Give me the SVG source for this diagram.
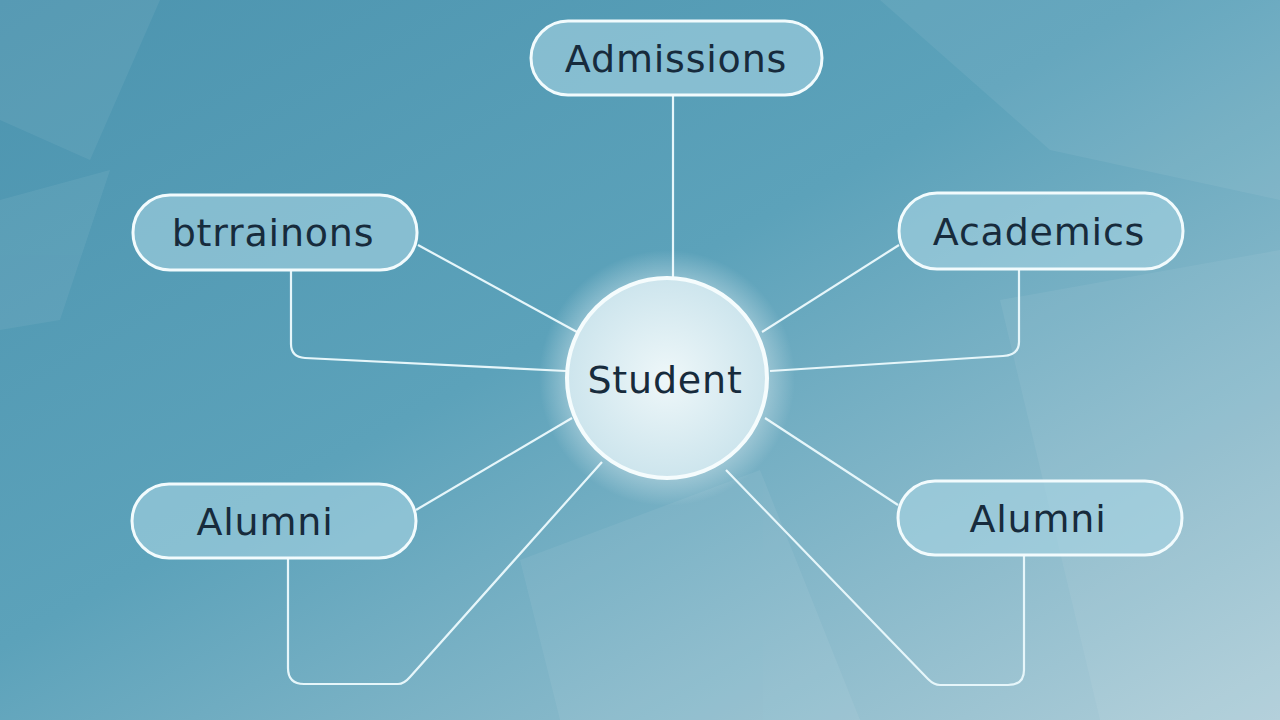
<svg xmlns="http://www.w3.org/2000/svg" width="1280" height="720" viewBox="0 0 1280 720">
<defs>
<linearGradient id="bg" x1="0" y1="0" x2="1" y2="1">
<stop offset="0" stop-color="#4c94af"/>
<stop offset="0.45" stop-color="#5ca2ba"/>
<stop offset="1" stop-color="#b0ced9"/>
</linearGradient>
<radialGradient id="glow" cx="0.5" cy="0.5" r="0.5">
<stop offset="0.6" stop-color="#ffffff" stop-opacity="0.55"/>
<stop offset="1" stop-color="#ffffff" stop-opacity="0"/>
</radialGradient>
<radialGradient id="core" cx="0.5" cy="0.5" r="0.5">
<stop offset="0" stop-color="#eef7f9"/>
<stop offset="1" stop-color="#cde5ed"/>
</radialGradient>
<style>
.node{fill:#a6d3e2;fill-opacity:0.6;stroke:#f2fbfd;stroke-width:3}
.lbl{font-family:"DejaVu Sans","Noto Sans",sans-serif;font-size:38px;letter-spacing:0.8px;fill:#172b3c;text-anchor:middle;dominant-baseline:central}
.con{fill:none;stroke:#e6f6fa;stroke-width:2.2;stroke-linejoin:round}
</style>
</defs>
<rect width="1280" height="720" fill="url(#bg)"/>
<g opacity="0.06" fill="#ffffff">
<polygon points="0,0 160,0 90,160 0,120"/>
<polygon points="880,0 1280,0 1280,200 1050,150"/>
<polygon points="1000,300 1280,250 1280,720 1100,720"/>
<polygon points="0,200 110,170 60,320 0,330"/>
<polygon points="520,560 760,470 860,720 560,720"/>
</g>
<g id="connectors">
<path class="con" d="M673 95 V278"/>
<path class="con" d="M418 245 L577 332"/>
<path class="con" d="M291 270 V344 Q291 357 305 358 L566 371"/>
<path class="con" d="M899 245 L762 332"/>
<path class="con" d="M1019 269 V342 Q1019 355 1003 356 L770 371"/>
<path class="con" d="M416 510 L572 418"/>
<path class="con" d="M288 558 V668 Q288 684 304 684 H398 Q404 684 410 677 L602 462"/>
<path class="con" d="M898 505 L765 418"/>
<path class="con" d="M1024 556 V670 Q1024 685 1008 685 H940 Q934 685 928 679 L726 470"/>
</g>
<g id="student">
<circle cx="667" cy="378" r="128" fill="url(#glow)"/>
<circle cx="667" cy="378" r="100" fill="url(#core)" stroke="#f5fcfd" stroke-width="4"/>
<text class="lbl" x="665" y="380">Student</text>
</g>
<g id="admissions">
<rect class="node" x="531" y="21" width="291" height="74" rx="37"/>
<text class="lbl" x="676" y="59">Admissions</text>
</g>
<g id="left-top">
<rect class="node" x="133" y="195" width="284" height="75" rx="37"/>
<text class="lbl" x="273" y="233">btrrainons</text>
</g>
<g id="academics">
<rect class="node" x="899" y="193" width="284" height="76" rx="38"/>
<text class="lbl" x="1039" y="232">Academics</text>
</g>
<g id="alumni-left">
<rect class="node" x="132" y="484" width="284" height="74" rx="37"/>
<text class="lbl" x="265" y="522">Alumni</text>
</g>
<g id="alumni-right">
<rect class="node" x="898" y="481" width="284" height="74" rx="37"/>
<text class="lbl" x="1038" y="519">Alumni</text>
</g>
</svg>
